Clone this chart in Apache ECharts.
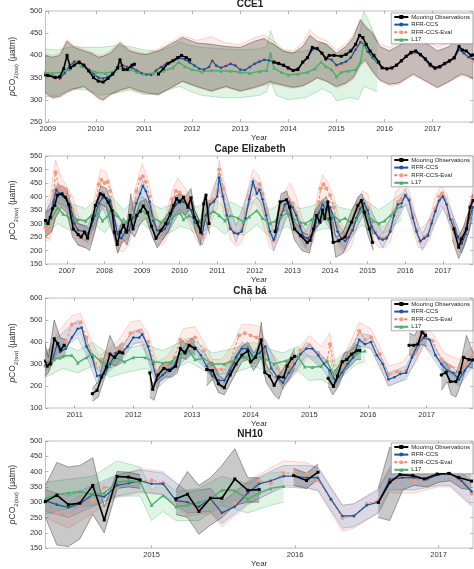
<!DOCTYPE html>
<html>
<head>
<meta charset="utf-8">
<script src="https://cdn.jsdelivr.net/npm/echarts@6/dist/echarts.min.js"></script>
<style>
  html, body { margin: 0; padding: 0; background: #fff; }
  #chart { width: 474px; height: 569px; }
</style>
</head>
<body>
<div id="chart"></div>
<script>
// ---- CCE1 ----
const cceYears = [2009, 2010, 2011, 2012, 2013, 2014, 2015, 2016, 2017];
const cceObs = [[2008.9,355],[2009.0,355],[2009.15,350],[2009.25,352],[2009.33,370],[2009.4,400],[2009.47,372],[2009.55,378],[2009.65,385],[2009.75,378],[2009.85,365],[2009.95,350],[2010.05,342],[2010.15,340],[2010.25,348],[2010.35,358],[2010.45,372],[2010.5,390],[2010.57,368],[2010.65,368],[2010.75,378],[2010.8,380],null,
  [2011.3,358],[2011.4,370],[2011.5,382],[2011.6,388],[2011.7,395],[2011.78,400],[2011.88,395],[2011.95,390],null,
  [2013.7,385],[2013.8,382],[2013.9,378],[2014.0,372],[2014.1,366],[2014.2,368],[2014.3,385],[2014.4,395],[2014.5,418],[2014.6,415],[2014.7,405],[2014.78,392],[2014.85,400],[2014.95,400],[2015.1,398],[2015.2,402],[2015.3,410],[2015.4,425],[2015.48,445],[2015.55,440],[2015.62,425],[2015.7,410],[2015.78,400],[2015.88,385],[2015.95,372],[2016.05,370],[2016.15,372],[2016.25,378],[2016.35,388],[2016.45,398],[2016.55,407],[2016.65,410],[2016.75,402],[2016.85,392],[2016.95,380],[2017.05,372],[2017.15,375],[2017.25,382],[2017.35,388],[2017.45,395],[2017.55,420],[2017.62,412],[2017.7,410],[2017.8,400],[2017.84,401]];
const cceRfr = [[2008.9,360],[2009.0,356],[2009.15,352],[2009.25,348],[2009.35,360],[2009.45,376],[2009.55,386],[2009.65,384],[2009.75,378],[2009.85,368],[2009.95,358],[2010.05,350],[2010.15,348],[2010.25,352],[2010.35,360],[2010.45,372],[2010.55,378],[2010.65,374],[2010.75,372],[2010.85,366],[2010.95,360],[2011.05,357],[2011.15,356],[2011.25,366],[2011.35,374],[2011.45,380],[2011.55,384],[2011.65,390],[2011.75,394],[2011.85,391],[2011.95,384],[2012.05,377],[2012.15,370],[2012.25,368],[2012.35,374],[2012.42,388],[2012.5,377],[2012.6,372],[2012.7,376],[2012.8,381],[2012.9,377],[2013.0,368],[2013.1,367],[2013.2,374],[2013.3,381],[2013.4,386],[2013.5,390],[2013.6,389],[2013.7,384],[2013.8,381],[2013.9,377],[2014.0,371],[2014.1,367],[2014.2,371],[2014.3,384],[2014.4,394],[2014.5,413],[2014.6,416],[2014.7,404],[2014.8,394],[2014.9,390],[2015.0,378],[2015.1,382],[2015.2,386],[2015.3,395],[2015.4,413],[2015.5,430],[2015.58,424],[2015.65,409],[2015.75,395],[2015.85,384],[2015.95,372],[2016.05,369],[2016.15,371],[2016.25,378],[2016.35,387],[2016.45,397],[2016.55,404],[2016.65,407],[2016.75,400],[2016.85,390],[2016.95,376],[2017.05,370],[2017.15,373],[2017.25,380],[2017.35,386],[2017.45,393],[2017.55,413],[2017.65,405],[2017.75,396],[2017.84,392]];
const cceEval = [[2008.9,365],[2009.0,358],[2009.15,352],[2009.25,345],[2009.35,358],[2009.45,375],[2009.55,388],[2009.65,385],[2009.75,380],[2009.85,370],[2009.95,360],[2010.05,350],[2010.15,345],[2010.25,350],[2010.35,360],[2010.45,372],[2010.55,380],[2010.65,375],[2010.75,372],[2010.85,368],[2010.95,362],[2011.05,358],[2011.15,355],[2011.25,368],[2011.35,375],[2011.45,382],[2011.55,385],[2011.65,392],[2011.75,395],[2011.85,392],[2011.95,385],[2012.05,378],[2012.15,370],[2012.25,368],[2012.35,375],[2012.42,392],[2012.5,378],[2012.6,372],[2012.7,378],[2012.8,383],[2012.9,378],[2013.0,368],[2013.1,366],[2013.2,375],[2013.3,383],[2013.4,388],[2013.5,392],[2013.6,390],[2013.7,385],[2013.8,382],[2013.9,378],[2014.0,370],[2014.1,365],[2014.2,370],[2014.3,385],[2014.4,395],[2014.5,415],[2014.6,418],[2014.7,405],[2014.8,395],[2014.9,390],[2015.0,372],[2015.1,375],[2015.2,382],[2015.3,392],[2015.4,415],[2015.5,432],[2015.58,425],[2015.65,410],[2015.75,395],[2015.85,385],[2015.95,372],[2016.05,368],[2016.15,370],[2016.25,378],[2016.35,388],[2016.45,398],[2016.55,405],[2016.65,408],[2016.75,400],[2016.85,390],[2016.95,375],[2017.05,368],[2017.15,372],[2017.25,380],[2017.35,385],[2017.45,392],[2017.55,415],[2017.65,405],[2017.75,395],[2017.84,388]];
const cceL17 = [[2008.9,362],[2009.1,360],[2009.3,362],[2009.45,368],[2009.6,385],[2009.7,375],[2009.85,368],[2010.0,362],[2010.2,360],[2010.4,365],[2010.55,372],[2010.7,368],[2010.85,362],[2011.0,358],[2011.2,360],[2011.4,365],[2011.6,372],[2011.72,385],[2011.85,375],[2012.0,368],[2012.2,363],[2012.4,366],[2012.6,365],[2012.8,365],[2013.0,362],[2013.2,360],[2013.4,364],[2013.55,366],[2013.63,405],[2013.7,372],[2013.85,362],[2014.0,356],[2014.2,358],[2014.4,362],[2014.55,370],[2014.68,385],[2014.78,375],[2014.9,368],[2015.0,352],[2015.1,362],[2015.25,365],[2015.4,368],[2015.5,385],[2015.57,428],[2015.65,415],[2015.75,400],[2015.85,385]];
// bands: [year, low, high]
const cceObsBand = [[2008.9,320,400],[2009.1,305,396],[2009.25,308,400],[2009.4,318,432],[2009.55,325,418],[2009.75,330,410],[2009.9,318,405],[2010.05,305,396],[2010.15,300,398],[2010.3,312,405],[2010.5,322,428],[2010.7,328,410],[2010.9,320,404],[2011.05,316,402],[2011.3,312,410],[2011.6,330,428],[2011.8,342,440],[2012.1,330,428],[2012.4,320,425],[2012.7,330,420],[2013.0,320,418],[2013.3,328,432],[2013.5,335,438],[2013.6,340,430],[2013.7,338,425],[2013.9,333,410],[2014.1,328,405],[2014.3,332,420],[2014.45,340,445],[2014.6,350,432],[2014.8,342,425],[2015.0,330,405],[2015.2,338,420],[2015.35,350,440],[2015.5,380,480],[2015.6,390,465],[2015.75,365,450],[2015.9,345,420],[2016.1,335,410],[2016.3,338,422],[2016.6,358,440],[2016.9,340,425],[2017.1,328,410],[2017.35,342,420],[2017.6,358,450],[2017.7,355,445],[2017.84,348,440]];
const cceEvalBand = [[2008.9,316,405],[2009.1,302,400],[2009.25,305,405],[2009.4,315,436],[2009.55,322,422],[2009.75,328,414],[2009.9,315,408],[2010.05,302,400],[2010.15,297,402],[2010.3,310,410],[2010.5,320,432],[2010.7,325,414],[2010.9,317,408],[2011.05,313,405],[2011.3,310,414],[2011.6,328,432],[2011.8,340,444],[2012.1,328,434],[2012.4,318,442],[2012.7,328,428],[2013.0,318,424],[2013.3,326,440],[2013.5,333,446],[2013.7,335,432],[2013.9,330,414],[2014.1,326,410],[2014.3,330,428],[2014.45,338,458],[2014.6,348,442],[2014.8,340,432],[2015.0,326,412],[2015.2,335,426],[2015.35,346,446],[2015.5,375,482],[2015.6,385,468],[2015.75,362,455],[2015.9,342,426],[2016.1,332,418],[2016.3,335,432],[2016.6,355,446],[2016.9,338,434],[2017.1,326,420],[2017.35,340,430],[2017.6,355,456],[2017.7,352,450],[2017.84,345,446]];
const cceRfrBand = [];
const cceL17Band = [[2008.9,305,415],[2009.2,310,412],[2009.5,325,420],[2009.8,322,418],[2010.1,310,418],[2010.4,315,422],[2010.7,322,420],[2011.0,312,412],[2011.3,314,410],[2011.6,326,420],[2011.75,330,430],[2011.9,322,424],[2012.2,310,418],[2012.6,305,415],[2013.0,305,412],[2013.4,310,415],[2013.55,318,420],[2013.63,345,455],[2013.75,310,420],[2014.0,300,405],[2014.35,305,410],[2014.6,318,420],[2014.7,325,430],[2014.9,315,415],[2015.0,298,400],[2015.3,305,415],[2015.45,300,430],[2015.57,330,500],[2015.7,325,470],[2015.85,318,430]];

// ---- Cape Elizabeth ----
const capeYears = [2007, 2008, 2009, 2010, 2011, 2012, 2013, 2014, 2015, 2016, 2017];
const capeObs = [[2006.43,311],[2006.5,300],[2006.56,323],[2006.62,355],[2006.68,367],[2006.75,405],[2006.87,410],[2006.96,397],[2007.05,370],[2007.17,280],[2007.3,259],[2007.38,250],[2007.47,268],[2007.55,246],[2007.68,317],[2007.76,367],[2007.89,410],[2007.97,405],[2008.1,379],[2008.2,348],[2008.27,268],[2008.34,222],[2008.42,268],[2008.51,293],[2008.59,268],[2008.68,330],[2008.76,280],[2008.86,330],[2008.95,345],[2009.03,365],[2009.15,340],[2009.25,290],[2009.37,245],[2009.5,275],[2009.63,300],[2009.75,336],[2009.84,367],[2009.92,392],[2010.0,380],[2010.1,397],[2010.22,360],[2010.3,395],[2010.39,323],[2010.47,305],[2010.56,268],[2010.64,373],[2010.7,405],[2010.78,300],null,
  [2012.54,270],[2012.67,380],[2012.84,388],[2012.92,360],[2013.05,280],[2013.22,255],[2013.39,230],[2013.47,238],[2013.56,280],[2013.64,330],[2013.73,305],[2013.8,350],[2013.86,318],[2013.94,380],[2014.0,318],[2014.08,230],[2014.23,236],[2014.4,250],[2014.57,305],[2014.74,367],[2014.83,385],[2014.91,342],[2015.04,280],[2015.13,230],null,
  [2017.29,280],[2017.42,212],[2017.5,244],[2017.63,280],[2017.72,360],[2017.8,385]];
const capeRfr = [[2006.43,300],[2006.55,320],[2006.65,380],[2006.72,425],[2006.8,410],[2006.9,400],[2007.0,390],[2007.1,360],[2007.2,300],[2007.3,275],[2007.45,270],[2007.55,262],[2007.65,290],[2007.75,330],[2007.85,375],[2007.95,395],[2008.05,395],[2008.15,385],[2008.25,330],[2008.35,260],[2008.45,245],[2008.55,270],[2008.65,275],[2008.75,320],[2008.85,375],[2008.95,410],[2009.02,440],[2009.1,420],[2009.2,380],[2009.3,310],[2009.4,275],[2009.5,270],[2009.6,280],[2009.7,300],[2009.8,345],[2009.9,370],[2010.0,385],[2010.1,380],[2010.2,370],[2010.3,350],[2010.4,305],[2010.5,290],[2010.6,260],[2010.7,330],[2010.8,370],[2010.9,380],[2011.0,400],[2011.05,470],[2011.15,400],[2011.25,330],[2011.35,280],[2011.45,265],[2011.55,262],[2011.65,270],[2011.75,320],[2011.85,390],[2011.95,455],[2012.05,410],[2012.12,425],[2012.2,390],[2012.3,330],[2012.4,270],[2012.5,240],[2012.6,280],[2012.7,330],[2012.8,370],[2012.9,380],[2013.0,360],[2013.1,330],[2013.2,290],[2013.3,250],[2013.4,245],[2013.5,255],[2013.6,290],[2013.7,340],[2013.8,370],[2013.9,350],[2014.0,360],[2014.1,325],[2014.2,270],[2014.3,245],[2014.4,235],[2014.5,250],[2014.6,275],[2014.7,320],[2014.8,355],[2014.9,375],[2015.0,350],[2015.1,290],[2015.2,265],[2015.3,245],[2015.4,240],[2015.5,245],[2015.6,270],[2015.7,330],[2015.8,370],[2015.9,375],[2016.0,405],[2016.1,385],[2016.2,320],[2016.3,270],[2016.4,235],[2016.5,245],[2016.6,255],[2016.7,300],[2016.8,345],[2016.9,385],[2017.0,400],[2017.1,370],[2017.2,315],[2017.3,280],[2017.4,250],[2017.5,225],[2017.6,260],[2017.7,320],[2017.8,360]];
const capeEval = [[2006.43,285],[2006.5,270],[2006.58,330],[2006.65,420],[2006.7,490],[2006.78,440],[2006.87,425],[2006.95,420],[2007.05,400],[2007.15,350],[2007.25,290],[2007.35,265],[2007.45,258],[2007.55,255],[2007.65,290],[2007.75,360],[2007.85,445],[2007.92,462],[2008.0,450],[2008.08,455],[2008.15,420],[2008.25,330],[2008.35,255],[2008.45,240],[2008.55,270],[2008.65,280],[2008.75,340],[2008.85,420],[2008.95,465],[2009.02,475],[2009.1,455],[2009.2,400],[2009.3,320],[2009.4,280],[2009.5,268],[2009.6,285],[2009.7,320],[2009.8,390],[2009.9,420],[2010.0,415],[2010.1,400],[2010.2,390],[2010.3,360],[2010.4,310],[2010.5,265],[2010.6,250],[2010.7,320],[2010.8,380],[2010.9,385],[2011.0,420],[2011.05,500],[2011.15,430],[2011.25,350],[2011.35,285],[2011.45,268],[2011.55,262],[2011.65,278],[2011.75,340],[2011.85,400],[2011.95,440],[2012.05,430],[2012.12,445],[2012.2,410],[2012.3,345],[2012.4,270],[2012.5,235],[2012.6,290],[2012.7,345],[2012.8,380],[2012.9,390],[2013.0,375],[2013.1,340],[2013.2,295],[2013.3,255],[2013.4,250],[2013.5,262],[2013.6,300],[2013.7,380],[2013.75,430],[2013.82,445],[2013.9,430],[2014.0,405],[2014.1,360],[2014.2,290],[2014.3,255],[2014.4,245],[2014.5,255],[2014.6,285],[2014.7,330],[2014.8,360],[2014.9,375],[2015.0,360],[2015.1,300],[2015.2,270],[2015.3,250],[2015.4,245],[2015.5,250],[2015.6,275],[2015.7,345],[2015.8,380],[2015.9,390],[2016.0,400],[2016.1,390],[2016.2,330],[2016.3,275],[2016.4,232],[2016.5,250],[2016.6,258],[2016.7,310],[2016.8,355],[2016.9,400],[2016.97,410],[2017.05,390],[2017.15,330],[2017.25,290],[2017.35,260],[2017.45,235],[2017.55,260],[2017.65,320],[2017.75,375],[2017.8,390]];
const capeL17 = [[2006.43,300],[2006.6,320],[2006.75,358],[2006.9,335],[2007.1,320],[2007.3,315],[2007.5,310],[2007.65,330],[2007.8,340],[2007.95,310],[2008.1,330],[2008.2,355],[2008.35,330],[2008.5,300],[2008.65,315],[2008.8,335],[2008.95,350],[2009.1,340],[2009.3,320],[2009.5,305],[2009.65,315],[2009.8,320],[2010.0,340],[2010.1,315],[2010.25,330],[2010.45,310],[2010.6,315],[2010.75,330],[2010.9,345],[2011.05,330],[2011.2,310],[2011.35,330],[2011.55,320],[2011.7,305],[2011.85,325],[2012.05,348],[2012.2,320],[2012.4,300],[2012.55,310],[2012.7,325],[2012.85,340],[2013.0,320],[2013.2,305],[2013.35,300],[2013.5,315],[2013.65,320],[2013.8,330],[2013.95,315],[2014.1,330],[2014.25,310],[2014.4,320],[2014.55,300],[2014.7,315],[2014.85,350],[2015.0,330],[2015.15,310],[2015.3,300],[2015.45,310],[2015.6,330],[2015.75,350],[2015.9,365]];
const capeObsBand = [[2006.43,250,340],[2006.6,270,360],[2006.7,320,430],[2006.85,360,440],[2007.0,340,430],[2007.15,250,340],[2007.3,220,300],[2007.5,210,290],[2007.6,200,280],[2007.75,270,360],[2007.9,370,440],[2008.05,360,430],[2008.2,280,370],[2008.35,190,260],[2008.5,240,320],[2008.6,220,300],[2008.7,270,410],[2008.8,250,320],[2008.95,300,380],[2009.1,320,390],[2009.25,260,340],[2009.4,210,280],[2009.55,240,310],[2009.7,270,340],[2009.85,330,400],[2010.0,350,410],[2010.15,330,400],[2010.3,360,430],[2010.4,280,350],[2010.55,220,300],[2010.65,330,400],[2010.8,260,340],null,
  [2012.55,240,300],[2012.7,340,410],[2012.85,350,420],[2013.05,240,310],[2013.25,200,270],[2013.45,190,255],[2013.6,280,350],[2013.75,300,380],[2013.9,330,400],[2014.05,270,330],[2014.15,175,250],[2014.35,190,270],[2014.55,260,340],[2014.75,330,400],[2014.85,350,410],[2015.0,260,330],[2015.15,200,260],null,
  [2017.25,240,320],[2017.42,170,250],[2017.55,210,290],[2017.7,270,350],[2017.8,350,410]];
const capeRfrBand = [[2006.43,270,330],[2006.7,380,440],[2007.0,360,420],[2007.3,250,300],[2007.55,230,290],[2007.95,360,420],[2008.35,220,290],[2008.6,240,300],[2009.02,400,460],[2009.35,250,320],[2009.55,240,300],[2010.0,340,410],[2010.3,310,380],[2010.6,220,290],[2011.05,430,490],[2011.5,230,290],[2011.95,410,470],[2012.15,380,440],[2012.5,200,270],[2012.9,340,400],[2013.35,210,270],[2013.8,320,390],[2014.4,200,260],[2014.9,335,395],[2015.4,210,265],[2016.0,370,430],[2016.45,200,260],[2017.0,360,420],[2017.5,190,250],[2017.8,320,380]];
const capeEvalBand = [[2006.43,235,370],[2006.55,240,400],[2006.7,330,535],[2006.85,340,470],[2007.0,330,440],[2007.15,270,400],[2007.3,220,330],[2007.5,210,300],[2007.65,230,330],[2007.8,300,440],[2007.9,350,500],[2008.05,350,490],[2008.2,300,420],[2008.35,200,320],[2008.5,195,300],[2008.65,220,320],[2008.8,300,420],[2009.0,380,520],[2009.15,320,470],[2009.3,240,370],[2009.45,215,310],[2009.6,230,320],[2009.8,290,420],[2009.95,340,470],[2010.1,340,440],[2010.25,300,410],[2010.4,250,350],[2010.55,215,300],[2010.7,250,360],[2010.85,310,420],[2011.0,360,470],[2011.05,420,535],[2011.2,320,440],[2011.35,240,340],[2011.5,215,300],[2011.65,230,320],[2011.8,310,420],[2011.95,380,500],[2012.1,360,480],[2012.25,280,410],[2012.4,210,320],[2012.5,200,290],[2012.65,250,350],[2012.8,320,420],[2012.95,330,450],[2013.1,280,400],[2013.25,220,320],[2013.4,200,290],[2013.55,230,320],[2013.7,320,430],[2013.8,370,480],[2013.95,340,450],[2014.1,280,400],[2014.25,210,310],[2014.4,190,280],[2014.55,210,300],[2014.7,280,380],[2014.85,330,420],[2015.0,310,410],[2015.15,240,330],[2015.3,210,290],[2015.45,210,290],[2015.6,230,320],[2015.75,320,420],[2015.9,360,440],[2016.05,370,440],[2016.2,280,370],[2016.35,210,280],[2016.5,210,290],[2016.65,240,320],[2016.8,310,400],[2016.95,370,440],[2017.1,330,410],[2017.25,250,340],[2017.45,190,260],[2017.6,230,300],[2017.8,340,430]];
const capeL17Band = [[2006.43,250,350],[2006.75,300,400],[2007.0,280,380],[2007.3,265,365],[2007.5,255,355],[2007.8,290,390],[2008.0,265,365],[2008.2,300,400],[2008.5,250,350],[2008.8,285,385],[2009.0,300,400],[2009.3,270,370],[2009.5,255,355],[2009.8,270,370],[2010.0,290,390],[2010.25,280,380],[2010.45,260,360],[2010.75,280,380],[2010.9,295,395],[2011.2,260,360],[2011.35,280,380],[2011.7,255,355],[2012.05,295,395],[2012.4,250,350],[2012.85,290,390],[2013.2,255,355],[2013.5,265,365],[2013.8,280,380],[2014.1,280,380],[2014.25,260,360],[2014.55,250,350],[2014.85,295,395],[2015.0,280,380],[2015.3,250,350],[2015.6,280,380],[2015.9,315,410]];

// ---- Chã bá ----
const chaYears = [2011, 2012, 2013, 2014, 2015, 2016, 2017];
const chaObs = [[2010.48,320],[2010.53,290],[2010.58,300],[2010.65,415],[2010.71,393],[2010.76,365],[2010.82,385],null,
  [2011.3,165],[2011.38,180],[2011.46,241],[2011.54,287],[2011.6,345],[2011.68,330],[2011.76,355],[2011.82,350],null,
  [2012.28,260],[2012.33,185],[2012.42,250],[2012.52,280],[2012.62,270],[2012.72,290],[2012.8,370],[2012.88,350],[2012.95,385],[2013.05,370],null,
  [2013.25,275],[2013.35,270],[2013.45,210],[2013.55,192],[2013.65,250],[2013.75,300],[2013.85,340],[2013.95,360],[2014.0,310],[2014.08,330],[2014.18,410],[2014.24,262],[2014.32,245],[2014.4,203],[2014.48,241],[2014.56,240],[2014.62,290],[2014.7,325],[2014.75,335],null,
  [2015.32,235],[2015.41,198],[2015.48,245],[2015.56,310],[2015.64,320],[2015.72,345],[2015.81,360],[2015.86,362],null,
  [2016.7,385],[2016.78,385],[2016.85,390],[2016.92,445],[2016.98,430],null,
  [2017.25,250],[2017.33,262],[2017.4,220],[2017.5,220],[2017.57,262],[2017.63,330],[2017.72,320],[2017.79,318]];
const chaRfr = [[2010.5,310],[2010.6,300],[2010.7,390],[2010.75,355],[2010.85,370],[2010.95,420],[2011.05,460],[2011.12,465],[2011.2,380],[2011.3,330],[2011.38,245],[2011.5,255],[2011.6,300],[2011.7,350],[2011.8,350],[2011.9,380],[2012.0,420],[2012.1,420],[2012.15,435],[2012.25,380],[2012.33,300],[2012.4,225],[2012.5,250],[2012.6,275],[2012.7,290],[2012.8,370],[2012.88,355],[2012.95,385],[2013.05,375],[2013.15,340],[2013.25,290],[2013.35,245],[2013.45,225],[2013.55,225],[2013.65,270],[2013.75,330],[2013.85,370],[2013.95,370],[2014.05,330],[2014.15,350],[2014.25,380],[2014.35,280],[2014.45,240],[2014.55,215],[2014.65,260],[2014.75,300],[2014.85,345],[2014.95,370],[2015.05,370],[2015.15,340],[2015.25,300],[2015.35,270],[2015.45,220],[2015.55,260],[2015.65,300],[2015.75,330],[2015.85,410],[2015.95,390],[2016.05,400],[2016.15,340],[2016.25,300],[2016.35,230],[2016.45,240],[2016.55,255],[2016.65,260],[2016.75,330],[2016.85,390],[2016.95,420],[2017.05,410],[2017.15,340],[2017.25,300],[2017.35,270],[2017.45,260],[2017.55,230],[2017.65,270],[2017.79,320]];
const chaEval = [[2010.5,290],[2010.7,390],[2010.85,400],[2010.95,480],[2011.1,490],[2011.2,420],[2011.35,300],[2011.45,320],[2011.6,340],[2011.8,370],[2011.95,440],[2012.1,450],[2012.25,400],[2012.4,265],[2012.55,290],[2012.7,330],[2012.8,410],[2012.95,400],[2013.05,420],[2013.2,360],[2013.35,280],[2013.5,275],[2013.65,310],[2013.8,430],[2013.9,440],[2014.0,430],[2014.1,420],[2014.2,395],[2014.3,320],[2014.45,280],[2014.55,245],[2014.7,300],[2014.85,360],[2015.0,385],[2015.15,350],[2015.3,310],[2015.35,390],[2015.45,240],[2015.55,290],[2015.7,350],[2015.85,450],[2015.95,410],[2016.05,420],[2016.2,345],[2016.35,250],[2016.5,265],[2016.65,270],[2016.8,350],[2016.95,430],[2017.1,405],[2017.25,320],[2017.4,290],[2017.55,280],[2017.65,300],[2017.79,340]];
const chaL17 = [[2010.5,300],[2010.65,320],[2010.8,335],[2010.95,340],[2011.05,305],[2011.2,330],[2011.3,345],[2011.45,310],[2011.6,290],[2011.7,330],[2011.85,310],[2012.0,330],[2012.2,330],[2012.35,310],[2012.5,305],[2012.65,310],[2012.8,345],[2012.95,360],[2013.05,320],[2013.2,325],[2013.35,300],[2013.55,300],[2013.75,320],[2013.9,330],[2014.05,335],[2014.2,330],[2014.4,300],[2014.6,315],[2014.8,335],[2014.92,288],[2015.05,285],[2015.2,290],[2015.3,315],[2015.4,255],[2015.5,290],[2015.65,330],[2015.8,345],[2015.95,360]];
const chaObsBand = [[2010.48,240,410],[2010.55,260,330],[2010.65,330,500],[2010.75,320,420],[2010.85,340,410],null,
  [2011.3,130,190],[2011.4,150,220],[2011.5,230,330],[2011.6,300,430],[2011.7,290,370],[2011.82,310,400],null,
  [2012.28,150,230],[2012.35,135,210],[2012.45,220,290],[2012.55,240,310],[2012.65,240,300],[2012.75,260,320],[2012.82,330,410],[2012.9,320,390],[2013.0,350,420],[2013.05,340,400],null,
  [2013.25,200,300],[2013.35,230,310],[2013.45,170,250],[2013.55,160,230],[2013.65,210,290],[2013.75,260,340],[2013.85,310,380],[2013.95,320,400],[2014.05,270,350],[2014.12,300,370],[2014.18,330,490],[2014.26,220,300],[2014.4,160,240],[2014.48,140,250],[2014.56,200,280],[2014.65,230,320],[2014.75,280,370],null,
  [2015.32,200,270],[2015.4,160,230],[2015.5,200,290],[2015.6,270,350],[2015.7,290,360],[2015.8,320,390],[2015.88,320,380],null,
  [2016.7,340,440],[2016.8,340,430],[2016.9,390,500],[2017.0,380,470],null,
  [2017.25,180,320],[2017.35,220,300],[2017.42,160,260],[2017.5,150,260],[2017.6,220,330],[2017.68,290,430],[2017.79,280,350]];
const chaRfrBand = [[2010.5,270,340],[2010.7,350,420],[2011.05,420,500],[2011.2,340,410],[2011.38,210,280],[2011.6,270,330],[2011.8,320,380],[2012.0,390,450],[2012.15,400,460],[2012.4,190,250],[2012.7,260,320],[2012.95,350,410],[2013.2,290,350],[2013.5,190,250],[2013.85,340,400],[2014.05,300,360],[2014.25,350,410],[2014.55,185,245],[2014.95,340,400],[2015.25,270,330],[2015.45,190,250],[2015.85,380,440],[2016.05,370,430],[2016.35,200,260],[2016.65,230,290],[2016.95,390,450],[2017.25,270,330],[2017.55,200,260],[2017.79,290,350]];
const chaEvalBand = [[2010.5,250,340],[2010.7,330,440],[2010.95,420,520],[2011.1,440,530],[2011.25,330,430],[2011.4,250,340],[2011.55,270,360],[2011.75,310,410],[2011.95,390,490],[2012.1,400,500],[2012.25,330,440],[2012.4,210,310],[2012.55,240,330],[2012.75,300,400],[2012.85,360,460],[2013.05,360,470],[2013.2,300,400],[2013.35,230,320],[2013.5,230,320],[2013.7,290,390],[2013.85,380,480],[2014.0,380,480],[2014.15,360,470],[2014.3,270,370],[2014.55,200,290],[2014.75,250,350],[2015.0,340,430],[2015.2,290,380],[2015.35,330,440],[2015.45,200,290],[2015.65,280,370],[2015.85,400,490],[2016.05,370,460],[2016.2,290,380],[2016.35,200,290],[2016.6,230,310],[2016.8,300,390],[2016.95,380,470],[2017.1,350,440],[2017.3,270,350],[2017.55,230,320],[2017.79,290,380]];
const chaL17Band = [[2010.5,240,360],[2010.8,280,390],[2011.05,260,360],[2011.3,290,400],[2011.6,240,340],[2011.85,260,370],[2012.2,280,390],[2012.5,250,360],[2012.95,310,420],[2013.35,250,350],[2013.7,260,370],[2014.05,290,400],[2014.35,260,365],[2014.55,250,350],[2014.8,270,380],[2015.0,225,335],[2015.2,230,330],[2015.4,200,310],[2015.55,240,340],[2015.8,300,400],[2015.95,310,400]];

// ---- NH10 ----
const nhYears = [2015, 2016, 2017];
const nhObs = [[2014.26,302],[2014.34,323],[2014.42,292],[2014.5,297],[2014.59,355],[2014.67,242],[2014.76,384],[2014.84,382],[2014.92,373],null,
  [2015.17,311],[2015.25,326],[2015.33,270],[2015.41,313],[2015.49,313],[2015.58,376],[2015.67,339],[2015.75,341],null,
  [2015.99,387],[2016.08,371],[2016.16,398],null,
  [2016.58,299],[2016.66,365],[2016.73,390],[2016.82,387],[2016.9,376],[2016.99,392],[2017.07,394],[2017.14,381],[2017.23,369]];
const nhRfr = [[2014.26,305],[2014.34,292],[2014.42,283],[2014.5,295],[2014.59,325],[2014.67,318],[2014.76,355],[2014.84,362],[2014.92,370],[2015.0,360],[2015.08,360],[2015.17,305],[2015.25,300],[2015.33,285],[2015.41,312],[2015.49,265],[2015.58,285],[2015.67,330],[2015.75,360],[2015.83,370],[2015.92,385],[2016.0,385],[2016.08,380],[2016.16,380],[2016.25,310],[2016.33,255],[2016.41,255],[2016.5,290],[2016.58,300],[2016.66,375],[2016.75,380],[2016.83,380],[2016.92,375],[2017.0,390],[2017.08,395],[2017.16,370],[2017.23,335]];
const nhEval = [[2014.26,300],[2014.34,265],[2014.42,258],[2014.5,292],[2014.59,305],[2014.67,348],[2014.76,350],[2014.84,368],[2014.92,367],[2015.0,372],[2015.08,362],[2015.17,305],[2015.25,290],[2015.33,280],[2015.41,308],[2015.49,260],[2015.58,295],[2015.67,330],[2015.75,370],[2015.83,362],[2015.92,395],[2016.0,395],[2016.08,392],[2016.16,372],[2016.25,308],[2016.33,248],[2016.41,255],[2016.5,295],[2016.58,305],[2016.66,365],[2016.75,380],[2016.83,370],[2016.92,380],[2017.0,395],[2017.08,392],[2017.16,365],[2017.23,328]];
const nhL17 = [[2014.26,312],[2014.34,325],[2014.42,330],[2014.5,335],[2014.59,325],[2014.67,330],[2014.76,365],[2014.84,370],[2014.92,365],[2015.0,290],[2015.08,322],[2015.17,285],[2015.25,290],[2015.33,300],[2015.41,310],[2015.49,340],[2015.58,338],[2015.67,310],[2015.75,330],[2015.83,345],[2015.92,352]];
const nhObsBand = [[2014.26,250,355],[2014.34,160,430],[2014.42,155,415],[2014.5,180,420],[2014.59,260,445],[2014.67,200,285],[2014.76,345,400],[2014.84,350,398],[2014.92,345,390],null,
  [2015.17,260,340],[2015.25,250,400],[2015.33,195,355],[2015.41,225,380],[2015.49,250,420],[2015.58,290,475],[2015.67,300,380],[2015.75,300,380],null,
  [2015.99,355,410],[2016.08,345,395],[2016.16,375,425],null,
  [2016.58,250,345],[2016.66,240,480],[2016.75,340,440],[2016.83,355,420],[2016.92,350,410],[2017.0,365,420],[2017.08,370,420],[2017.16,345,410],[2017.23,340,400]];
const nhRfrBand = [[2014.26,270,340],[2014.42,250,320],[2014.59,285,355],[2014.76,320,390],[2014.92,335,405],[2015.08,325,395],[2015.25,265,335],[2015.41,270,345],[2015.49,230,300],[2015.67,295,365],[2015.92,350,420],[2016.08,345,420],[2016.16,340,415],[2016.33,215,290],[2016.41,220,295],[2016.58,265,340],[2016.66,340,415],[2016.83,340,420],[2017.0,355,425],[2017.08,355,430],[2017.23,290,370]];
const nhEvalBand = [[2014.26,250,345],[2014.42,215,300],[2014.59,265,345],[2014.76,315,385],[2014.92,330,410],[2015.08,325,400],[2015.25,255,330],[2015.41,265,345],[2015.49,220,300],[2015.67,290,370],[2015.92,355,435],[2016.08,350,430],[2016.16,335,410],[2016.33,205,290],[2016.41,215,295],[2016.58,265,345],[2016.66,330,405],[2016.83,330,405],[2017.0,350,430],[2017.08,350,430],[2017.23,285,360]];
const nhL17Band = [[2014.26,260,365],[2014.42,280,375],[2014.59,290,385],[2014.76,320,435],[2014.92,320,415],[2015.0,240,340],[2015.08,270,370],[2015.17,240,335],[2015.33,240,345],[2015.49,290,385],[2015.67,265,360],[2015.83,290,395],[2015.92,300,400]];

const FONT = '"Liberation Sans", Arial, Helvetica, sans-serif';
const names = ['Mooring Observations', 'RFR-CCS', 'RFR-CCS-Eval', 'L17'];

const panels = [
  { title: 'CCE1', left: 27, top: 11, height: 111, xMin: 2008.95, xMax: 2017.84, yMin: 250, yMax: 500, yStep: 50, years: cceYears,
    obs: cceObs, rfr: cceRfr, ev: cceEval, l17: cceL17, obsBand: cceObsBand, rfrBand: cceRfrBand, evBand: cceEvalBand, l17Band: cceL17Band, legendTop: 13 },
  { title: 'Cape Elizabeth', left: 26, top: 156, height: 108, xMin: 2006.43, xMax: 2017.8, yMin: 150, yMax: 550, yStep: 50, years: capeYears,
    obs: capeObs, rfr: capeRfr, ev: capeEval, l17: capeL17, obsBand: capeObsBand, rfrBand: capeRfrBand, evBand: capeEvalBand, l17Band: capeL17Band, legendTop: 156 },
  { title: 'Chã bá', left: 26, top: 298, height: 110, xMin: 2010.5, xMax: 2017.79, yMin: 100, yMax: 600, yStep: 100, years: chaYears,
    obs: chaObs, rfr: chaRfr, ev: chaEval, l17: chaL17, obsBand: chaObsBand, rfrBand: chaRfrBand, evBand: chaEvalBand, l17Band: chaL17Band, legendTop: 300 },
  { title: 'NH10', left: 26, top: 441, height: 110, xMin: 2014.26, xMax: 2017.24, yMin: 150, yMax: 500, yStep: 50, years: nhYears,
    obs: nhObs, rfr: nhRfr, ev: nhEval, l17: nhL17, obsBand: nhObsBand, rfrBand: nhRfrBand, evBand: nhEvalBand, l17Band: nhL17Band, legendTop: 443 }
];

function lineData(arr) {
  return arr.map(p => (p === null ? ['-', '-'] : p));
}

function bandSeries(band, idx, fill, stroke) {
  return {
    type: 'custom',
    xAxisIndex: idx,
    yAxisIndex: idx,
    silent: true,
    clip: true,
    z: 1,
    data: band.length ? [[band[0][0], band[0][1]]] : [],
    renderItem: function (params, api) {
      if (params.dataIndex !== 0) return null;
      const segs = [];
      let cur = [];
      band.forEach(p => {
        if (p === null) { if (cur.length) segs.push(cur); cur = []; }
        else cur.push(p);
      });
      if (cur.length) segs.push(cur);
      const children = [];
      segs.forEach(s => {
        const lo = s.map(p => api.coord([p[0], p[1]]));
        const hi = s.map(p => api.coord([p[0], p[2]]));
        children.push({ type: 'polygon', shape: { points: lo.concat(hi.slice().reverse()) }, style: { fill: fill } });
        children.push({ type: 'polyline', shape: { points: lo }, style: { stroke: stroke, fill: null, lineWidth: 0.6 } });
        children.push({ type: 'polyline', shape: { points: hi }, style: { stroke: stroke, fill: null, lineWidth: 0.6 } });
      });
      return { type: 'group', children: children };
    }
  };
}

const grid = [], xAxis = [], yAxis = [], series = [], title = [], legend = [];
const axisColor = '#b0b0b0';
const labelColor = '#333';

panels.forEach((p, i) => {
  grid.push({ left: p.left, top: p.top, width: 473 - p.left, height: p.height, show: true, borderColor: axisColor, borderWidth: 0.8 });
  title.push({ text: p.title, left: 250, top: p.top - 12, textAlign: 'center', padding: 0,
    textStyle: { fontFamily: FONT, fontSize: 10, fontWeight: 'bold', color: '#222' } });
  legend.push({
    top: p.legendTop, right: 1, orient: 'vertical', itemWidth: 14, itemHeight: 5, itemGap: 1.6,
    padding: [1, 3, 1, 2], backgroundColor: '#fff', borderColor: '#777', borderWidth: 0.6,
    textStyle: { fontFamily: FONT, fontSize: 6, color: '#222', padding: [0, 0, 0, -2] },
    data: names
  });
});

// bottom x axes (0-3), left y axes (0-3)
panels.forEach((p, i) => {
  xAxis.push({
    gridIndex: i, type: 'value', min: p.xMin, max: p.xMax,
    axisLine: { show: false },
    axisTick: { inside: true, length: 3, customValues: p.years, lineStyle: { color: '#888', width: 0.6 } },
    axisLabel: { customValues: p.years, fontFamily: FONT, fontSize: 7.5, color: labelColor, margin: 3, formatter: v => String(v) },
    splitLine: { show: false },
    name: 'Year', nameLocation: 'middle', nameGap: 11,
    nameTextStyle: { fontFamily: FONT, fontSize: 8, color: labelColor }
  });
  yAxis.push({
    gridIndex: i, type: 'value', min: p.yMin, max: p.yMax, interval: p.yStep,
    axisLine: { show: false },
    axisTick: { inside: true, length: 3, lineStyle: { color: '#888', width: 0.6 } },
    axisLabel: { fontFamily: FONT, fontSize: 7.5, color: labelColor, margin: 3 },
    splitLine: { show: false },
    name: '{i|p}CO{s|2(sw)} (µatm)', nameLocation: 'middle', nameGap: 20, nameRotate: 90,
    nameTextStyle: {
      fontFamily: FONT, fontSize: 8.5, color: labelColor,
      rich: {
        i: { fontFamily: FONT, fontSize: 8.5, fontStyle: 'italic', color: labelColor },
        s: { fontFamily: FONT, fontSize: 6, color: labelColor, verticalAlign: 'bottom', lineHeight: 13 }
      }
    }
  });
});
// mirrored top / right ticks
panels.forEach((p, i) => {
  xAxis.push({
    gridIndex: i, type: 'value', position: 'top', min: p.xMin, max: p.xMax,
    axisLine: { show: false }, axisLabel: { show: false }, splitLine: { show: false },
    axisTick: { inside: true, length: 3, customValues: p.years, lineStyle: { color: '#888', width: 0.6 } }
  });
  yAxis.push({
    gridIndex: i, type: 'value', position: 'right', min: p.yMin, max: p.yMax, interval: p.yStep,
    axisLine: { show: false }, axisLabel: { show: false }, splitLine: { show: false },
    axisTick: { inside: true, length: 3, lineStyle: { color: '#888', width: 0.6 } }
  });
});

panels.forEach((p, i) => {
  series.push(bandSeries(p.l17Band, i, 'rgba(110,205,130,0.22)', 'rgba(70,175,100,0.55)'));
  series.push(bandSeries(p.evBand, i, 'rgba(240,135,115,0.15)', 'rgba(235,125,105,0.5)'));
  series.push(bandSeries(p.rfrBand, i, 'rgba(90,140,205,0.2)', 'rgba(60,105,170,0.5)'));
  series.push(bandSeries(p.obsBand, i, 'rgba(60,60,60,0.28)', 'rgba(30,30,30,0.65)'));

  series.push({
    name: 'RFR-CCS-Eval', type: 'line', xAxisIndex: i, yAxisIndex: i, data: lineData(p.ev), z: 3,
    symbol: 'circle', symbolSize: 4, showSymbol: true, connectNulls: false,
    itemStyle: { color: '#f29b82' }, lineStyle: { color: '#ec8266', width: 1, type: [3, 2] }
  });
  series.push({
    name: 'RFR-CCS', type: 'line', xAxisIndex: i, yAxisIndex: i, data: lineData(p.rfr), z: 4,
    symbol: 'circle', symbolSize: 2.6, showSymbol: true, connectNulls: false,
    itemStyle: { color: '#1a5699' }, lineStyle: { color: '#1a5699', width: 1.2 }
  });
  series.push({
    name: 'L17', type: 'line', xAxisIndex: i, yAxisIndex: i, data: lineData(p.l17), z: 4,
    symbol: 'triangle', symbolSize: 3.5, showSymbol: true, connectNulls: false,
    itemStyle: { color: '#4cae6a' }, lineStyle: { color: '#4cae6a', width: 1.4 }
  });
  series.push({
    name: 'Mooring Observations', type: 'line', xAxisIndex: i, yAxisIndex: i, data: lineData(p.obs), z: 5,
    symbol: 'rect', symbolSize: 3, showSymbol: true, connectNulls: false,
    itemStyle: { color: '#000' }, lineStyle: { color: '#000', width: 1.6 }
  });
});

const chart = echarts.init(document.getElementById('chart'), null, { renderer: 'canvas' });
chart.setOption({
  animation: false,
  backgroundColor: '#fff',
  textStyle: { fontFamily: FONT },
  title: title,
  legend: legend,
  grid: grid,
  xAxis: xAxis,
  yAxis: yAxis,
  series: series
});
</script>
</body>
</html>
